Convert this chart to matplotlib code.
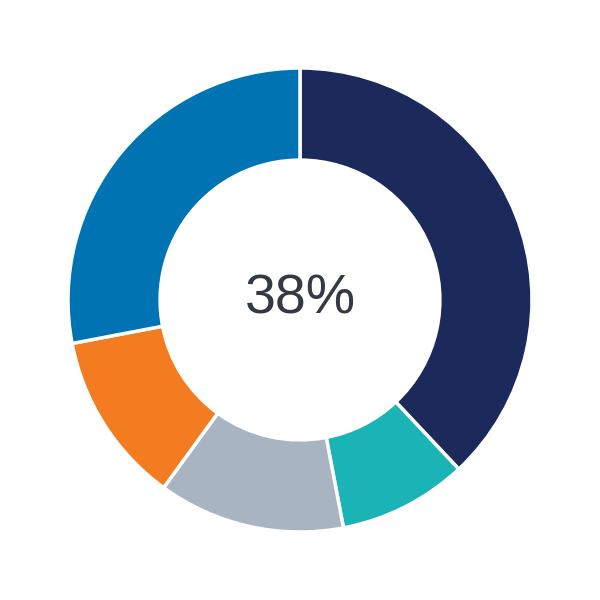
import matplotlib
matplotlib.use("Agg")
import matplotlib.pyplot as plt

# slice shares, clockwise from 12 o'clock
labels = ["A", "B", "C", "D", "E"]
values = [38, 9, 13, 12, 28]
colors = ["#1b2a5a", "#1ab4b7", "#a8b4c2", "#f47c20", "#0074b3"]
center_text = "38%"

fig = plt.figure(figsize=(6, 6), dpi=100)
ax = fig.add_axes([0, 0, 1, 1])

ax.pie(values, colors=colors, startangle=90, counterclock=False,
       radius=1.0,
       wedgeprops=dict(width=0.397, edgecolor="white", linewidth=2.5))

ax.text(0, 0, center_text, ha="center", va="center", fontsize=40,
        color="#333a44", family=["Liberation Sans", "DejaVu Sans"])

lim = 300 / 232
ax.set_xlim(-lim, lim)
ax.set_ylim(-lim, lim)
ax.set_aspect("equal")
ax.axis("off")

fig.savefig("out.png", dpi=100, facecolor="white")
